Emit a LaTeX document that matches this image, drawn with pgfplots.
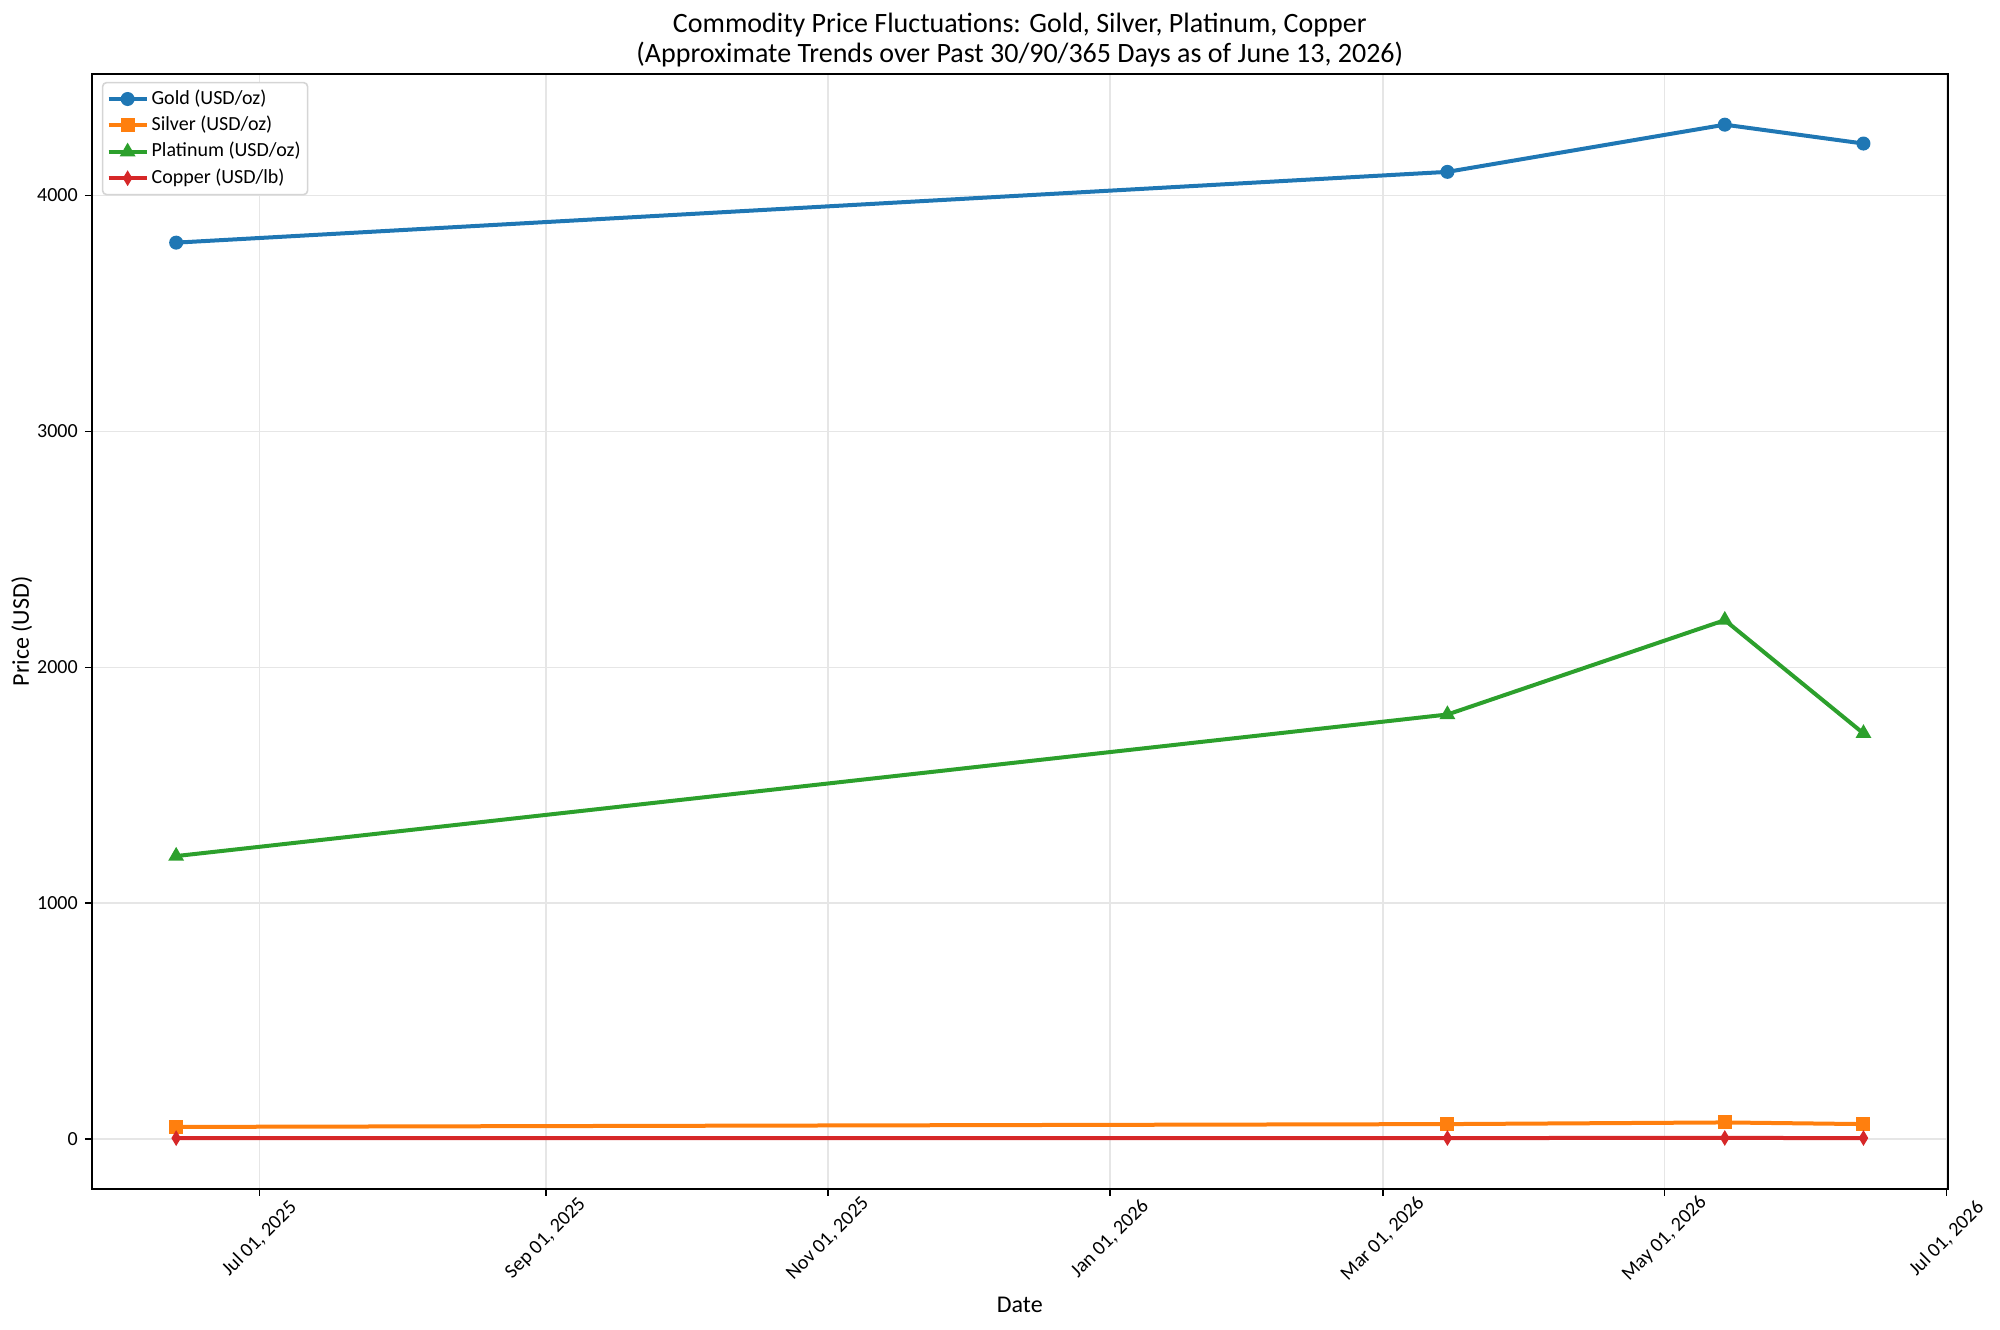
\documentclass[border=0pt]{standalone}
\usepackage{pgfplots}
\pgfplotsset{compat=1.18}
\usepackage{fontspec}
\setmainfont{Carlito}
\definecolor{tabblue}{HTML}{1F77B4}
\definecolor{taborange}{HTML}{FF7F0E}
\definecolor{tabgreen}{HTML}{2CA02C}
\definecolor{tabred}{HTML}{D62728}
\definecolor{gridgray}{HTML}{E6E6E6}
\definecolor{legendgray}{HTML}{D5D5D5}
\begin{document}
\begin{tikzpicture}
\path[use as bounding box] (-45.9pt,-70.1pt) rectangle (954.1pt,594.4pt);
\begin{axis}[
  at={(0,0)}, anchor=south west,
  scale only axis, width=928pt, height=557.4pt,
  xmin=-36.25, xmax=365.25, ymin=-210.3, ymax=4514.8,
  xtick={0,62,123,184,243,304,365},
  xticklabels={{Jul 01, 2025},{Sep 01, 2025},{Nov 01, 2025},{Jan 01, 2026},{Mar 01, 2026},{May 01, 2026},{Jul 01, 2026}},
  ytick={0,1000,2000,3000,4000},
  tick pos=left, tick align=outside, major tick length=3.5pt,
  every tick/.style={black, line width=0.8pt},
  axis line style={line width=0.8pt},
  grid=major, grid style={color=gridgray, line width=0.8pt},
  ticklabel style={font=\fontsize{10}{12}\selectfont},
  /pgf/number format/assume math mode=true,
  /pgf/number format/1000 sep={},
  xticklabel style={yshift=-21.5pt, rotate=45, anchor=center},
  xlabel={Date}, ylabel={Price (USD)},
  label style={font=\fontsize{12}{14}\selectfont},
  xlabel style={at={(axis description cs:0.5,-0.104)}, anchor=center},
  ylabel style={at={(axis description cs:-0.0377,0.5)}, anchor=center},
  title={Commodity Price Fluctuations: Gold, Silver, Platinum, Copper\\(Approximate Trends over Past 30/90/365 Days as of June 13, 2026)},
  title style={at={(axis description cs:0.5,1.0197)}, anchor=center, align=center, font=\fontsize{14}{15.3}\selectfont},
  legend style={at={(axis description cs:0.0054,0.993)}, anchor=north west, draw=legendgray, line width=0.8pt, rounded corners=2pt, fill=white, font=\fontsize{10}{12}\selectfont, row sep=0.8pt, inner xsep=2pt, inner ysep=2pt, nodes={inner sep=1.5pt, text height=7.2pt, text depth=2.2pt}},
  legend cell align=left,
  legend image code/.code={\draw[sharp corners, #1, mark repeat=2, mark phase=2] plot coordinates {(0pt,0pt) (9.5pt,0pt) (19pt,0pt)};},
]
\addplot[color=tabblue, line width=2pt, mark=*, mark size=3pt, mark options={line width=1pt}] coordinates {(-18,3800) (257,4100) (317,4300) (347,4220)};
\addlegendentry{Gold (USD/oz)}
\addplot[color=taborange, line width=2pt, mark=square*, mark size=3pt, mark options={line width=1pt}] coordinates {(-18,52) (257,64) (317,71) (347,64)};
\addlegendentry{Silver (USD/oz)}
\addplot[color=tabgreen, line width=2pt, mark=triangle*, mark size=3.6pt, mark options={line width=1pt}] coordinates {(-18,1200) (257,1800) (317,2200) (347,1720)};
\addlegendentry{Platinum (USD/oz)}
\addplot[color=tabred, line width=2pt, mark=diamond*, mark size=3pt, mark options={line width=1pt, xscale=0.8}] coordinates {(-18,4.5) (257,5.0) (317,5.2) (347,4.9)};
\addlegendentry{Copper (USD/lb)}
\end{axis}
\end{tikzpicture}
\end{document}
